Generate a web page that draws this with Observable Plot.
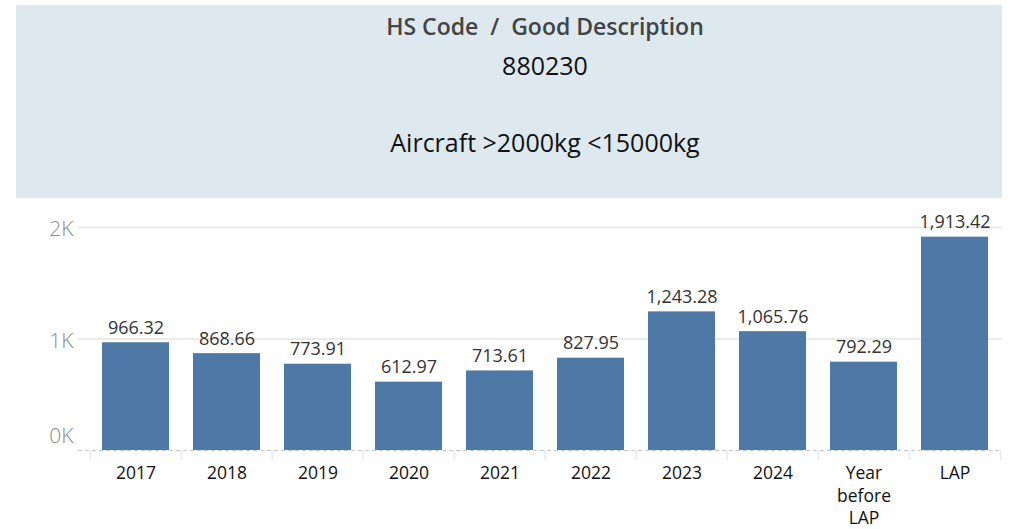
<!DOCTYPE html>
<html>
<head>
<meta charset="utf-8">
<script src="https://cdn.jsdelivr.net/npm/d3@7"></script>
<script src="https://cdn.jsdelivr.net/npm/@observablehq/plot@0.6"></script>
<style>
  html, body { margin: 0; padding: 0; background: #fff; }
  #page { position: relative; width: 1021px; height: 529px; overflow: hidden; font-family: "Open Sans", sans-serif; }
  #hdr { position: absolute; left: 16px; top: 5px; width: 986px; height: 193px; background: #dde9ef; }
  .line { position: absolute; left: 72px; width: 914px; text-align: center; line-height: 1; white-space: nowrap; }
  #t1 { top: 10px; font-size: 23px; font-weight: 600; color: #444; }
  #t2 { top: 47.5px; font-size: 25px; color: #111; }
  #t3 { top: 124.5px; font-size: 25px; color: #111; }
  #chart { position: absolute; left: 0; top: 198px; }
</style>
</head>
<body>
<div id="page">
  <div id="hdr">
    <div class="line" id="t1">HS Code&nbsp;&nbsp;/&nbsp;&nbsp;Good Description</div>
    <div class="line" id="t2">880230</div>
    <div class="line" id="t3">Aircraft &gt;2000kg &lt;15000kg</div>
  </div>
  <div id="chart"></div>
</div>
<script>
const categories = ["2017", "2018", "2019", "2020", "2021", "2022", "2023", "2024", "Year before LAP", "LAP"];
const values = [966.32, 868.66, 773.91, 612.97, 713.61, 827.95, 1243.28, 1065.76, 792.29, 1913.42];
const yTicks = [0, 1000, 2000];
const yTickLabels = ["0K", "1K", "2K"];

const data = categories.map((c, i) => ({cat: c, value: values[i]}));
const fmt = d3.format(",.2f");

const W = 1021, H = 331;
const x0 = 88, x1 = 1002;
const step = (x1 - x0) / categories.length;

const chart = Plot.plot({
  width: W,
  height: H,
  marginTop: 29,
  marginBottom: 79,
  marginLeft: 78,
  marginRight: 19,
  style: {fontFamily: "Open Sans, sans-serif", background: "transparent", overflow: "visible"},
  x: {domain: categories, range: [x0, x1], paddingInner: 0.26, paddingOuter: 0.13, label: null},
  y: {domain: [0, 2000], label: null},
  marks: [
    Plot.ruleY(yTicks.filter(d => d > 0), {stroke: "#ebebeb", strokeWidth: 2}),
    Plot.ruleX(categories, {x: d => d, y1: 0, y2: -90, dx: -step / 2, stroke: "#ececec", strokeWidth: 2}),
    Plot.ruleX(categories.slice(-1), {x: d => d, y1: 0, y2: -90, dx: step / 2, stroke: "#ececec", strokeWidth: 2}),
    Plot.barY(data, {x: "cat", y: "value", fill: "#4e79a7"}),
    Plot.ruleY([0], {stroke: "#c8c8c8", strokeDasharray: "4,3"}),
    Plot.text(data, {x: "cat", y: "value", text: d => fmt(d.value), lineAnchor: "bottom", dy: -9, fontSize: 18, fill: "#333"}),
    Plot.axisY(yTicks.filter(d => d > 0), {tickSize: 0, tickPadding: 5, tickFormat: d => yTickLabels[yTicks.indexOf(d)], fontSize: 21, fill: "#8a8a8a", fontWeight: 300, dy: 2}),
    Plot.axisY([0], {tickSize: 0, tickPadding: 5, tickFormat: d => yTickLabels[yTicks.indexOf(d)], fontSize: 21, fill: "#8a8a8a", fontWeight: 300, dy: -14}),
    Plot.axisX({tickSize: 0, tickPadding: 13, tickFormat: d => d.replace(/ /g, "\n"), fontSize: 17.5, fill: "#111", stroke: "#111", strokeWidth: 0.45, fontWeight: 400, lineHeight: 1.28})
  ]
});
document.getElementById("chart").appendChild(chart);
</script>
</body>
</html>
